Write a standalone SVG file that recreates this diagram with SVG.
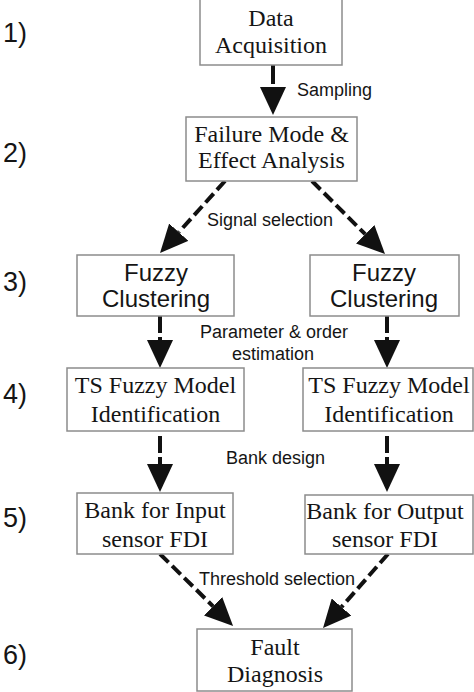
<svg xmlns="http://www.w3.org/2000/svg" width="474" height="692" viewBox="0 0 474 692">
<style>
.box{fill:#fff;stroke:#8c8c8c;stroke-width:1.5}
.serif{font-family:"Liberation Serif","Times New Roman",serif;font-size:24px;fill:#151515;text-anchor:middle}
.sans{font-family:"Liberation Sans",Arial,sans-serif;font-size:24px;fill:#151515;text-anchor:middle}
.lbl{font-family:"Liberation Sans",Arial,sans-serif;font-size:18px;fill:#151515}
.step{font-family:"Liberation Sans",Arial,sans-serif;font-size:27px;fill:#151515}
.v{stroke:#111;stroke-width:4;fill:none;stroke-dasharray:17 4;marker-end:url(#ah)}
.d{stroke:#111;stroke-width:4;fill:none;stroke-dasharray:12 5;marker-end:url(#ah)}
</style>
<defs>
<marker id="ah" markerUnits="userSpaceOnUse" markerWidth="28" markerHeight="26" refX="0" refY="13" orient="auto">
<path d="M0,0 L28,13 L0,26 Z" fill="#111"/>
</marker>
</defs>
<rect width="474" height="692" fill="#fff"/>
<g id="steps">
<text class="step" x="3" y="42">1)</text>
<text class="step" x="3" y="162">2)</text>
<text class="step" x="3" y="291">3)</text>
<text class="step" x="3" y="403">4)</text>
<text class="step" x="3" y="527">5)</text>
<text class="step" x="3" y="664">6)</text>
</g>
<g id="connectors">
<line class="v" x1="273" y1="65" x2="273" y2="87" style="stroke-dasharray:19 4"/>
<line class="d" x1="225" y1="181" x2="178.8" y2="232.2"/>
<line class="d" x1="312" y1="181" x2="365.2" y2="234.2"/>
<line class="v" x1="160" y1="316" x2="160" y2="340"/>
<line class="v" x1="387" y1="316" x2="387" y2="340"/>
<line class="v" x1="160" y1="436" x2="160" y2="464"/>
<line class="v" x1="387" y1="436" x2="387" y2="464"/>
<line class="d" x1="160" y1="554" x2="213.1" y2="606.3"/>
<line class="d" x1="388" y1="554" x2="341.5" y2="607"/>
<text class="lbl" x="297" y="96">Sampling</text>
<text class="lbl" x="207" y="226">Signal selection</text>
<text class="lbl" x="274" y="338" text-anchor="middle">Parameter &amp; order</text>
<text class="lbl" x="273" y="360" text-anchor="middle">estimation</text>
<text class="lbl" x="226" y="464">Bank design</text>
<text class="lbl" x="199" y="585">Threshold selection</text>
</g>
<g id="n1">
<rect class="box" x="200" y="-1" width="142" height="66"/>
<text class="serif" x="271" y="26">Data</text>
<text class="serif" x="271" y="53">Acquisition</text>
</g>
<g id="n2">
<rect class="box" x="186" y="117" width="171" height="64"/>
<text class="serif" x="271.5" y="142">Failure Mode &amp;</text>
<text class="serif" x="271.5" y="168">Effect Analysis</text>
</g>
<g id="n3l">
<rect class="box" x="77" y="255" width="157" height="61"/>
<text class="sans" x="156" y="281">Fuzzy</text>
<text class="sans" x="156" y="307">Clustering</text>
</g>
<g id="n3r">
<rect class="box" x="310" y="255" width="149" height="61"/>
<text class="sans" x="384" y="281">Fuzzy</text>
<text class="sans" x="384" y="307">Clustering</text>
</g>
<g id="n4l">
<rect class="box" x="67" y="368" width="177" height="63"/>
<text class="serif" x="155.5" y="393">TS Fuzzy Model</text>
<text class="serif" x="155.5" y="422">Identification</text>
</g>
<g id="n4r">
<rect class="box" x="303" y="368" width="170" height="63"/>
<text class="serif" x="389" y="393">TS Fuzzy Model</text>
<text class="serif" x="389" y="422">Identification</text>
</g>
<g id="n5l">
<rect class="box" x="77" y="493" width="156" height="61"/>
<text class="serif" x="155" y="518">Bank for Input</text>
<text class="serif" x="155" y="547">sensor FDI</text>
</g>
<g id="n5r">
<rect class="box" x="305" y="495" width="168" height="59"/>
<text class="serif" x="385" y="519">Bank for Output</text>
<text class="serif" x="385" y="547">sensor FDI</text>
</g>
<g id="n6">
<rect class="box" x="197" y="629" width="155" height="62"/>
<text class="serif" x="275" y="655">Fault</text>
<text class="serif" x="275" y="682">Diagnosis</text>
</g>
</svg>
